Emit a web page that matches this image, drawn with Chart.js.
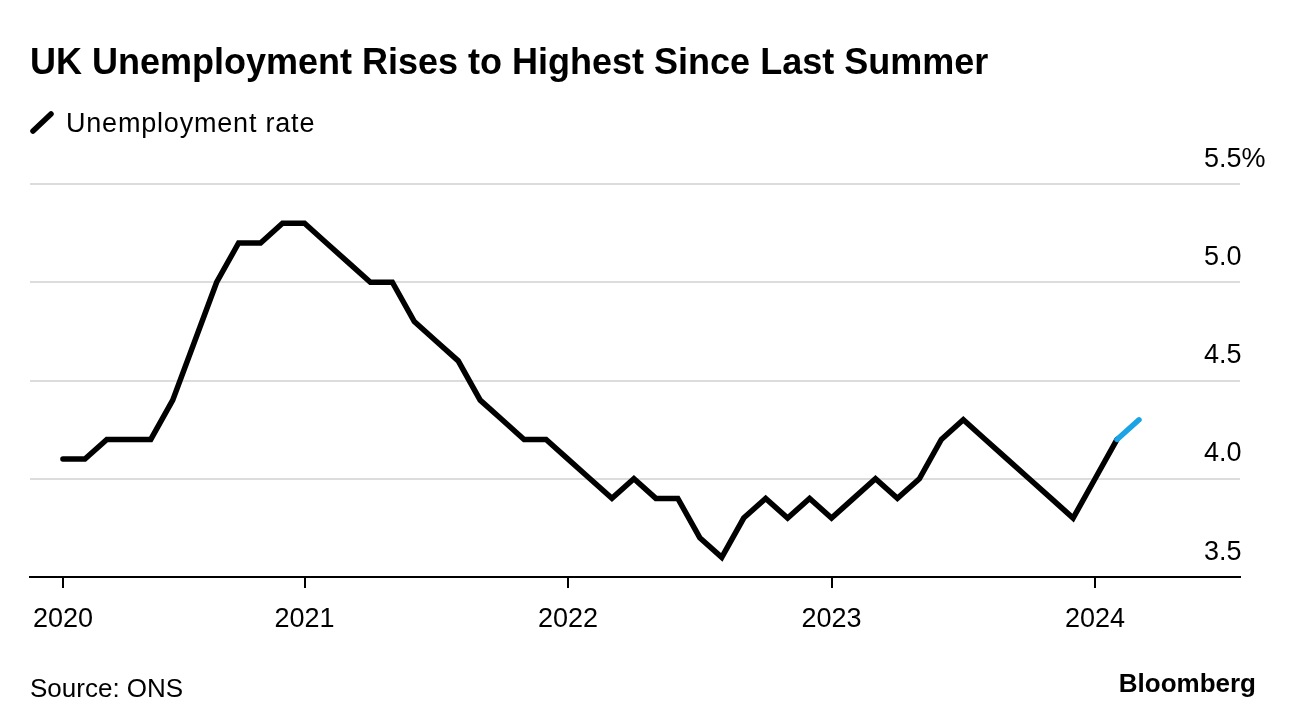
<!DOCTYPE html>
<html>
<head>
<meta charset="utf-8">
<script src="https://cdn.jsdelivr.net/npm/chart.js@4/dist/chart.umd.min.js"></script>
<style>
html,body{margin:0;padding:0;background:#fff;width:1296px;height:728px;overflow:hidden;font-family:"Liberation Sans",Arial,sans-serif;}
#wrap{position:relative;width:1296px;height:728px;}
#c{position:absolute;left:0;top:0;}
.t{position:absolute;white-space:nowrap;color:#000;line-height:1;}
#title{left:30px;top:44px;font-weight:bold;font-size:36px;}
#legend{left:66px;top:110px;font-size:27px;letter-spacing:0.8px;}
#icon{position:absolute;left:0;top:0;}
#source{left:30px;top:675px;font-size:26px;}
#brand{right:40px;top:670px;font-size:26px;font-weight:bold;}
</style>
</head>
<body>
<div id="wrap">
  <canvas id="c" width="1296" height="728"></canvas>
  <div class="t" id="title">UK Unemployment Rises to Highest Since Last Summer</div>
  <svg id="icon" width="80" height="150"><line x1="33" y1="131" x2="51" y2="114" stroke="#000" stroke-width="5.5" stroke-linecap="round"/></svg>
  <div class="t" id="legend">Unemployment rate</div>
  <div class="t" id="source">Source: ONS</div>
  <div class="t" id="brand">Bloomberg</div>
</div>
<script>
// Monthly observations, Feb 2020 .. Mar 2024
const months = [
  'Feb 2020','Mar 2020','Apr 2020','May 2020','Jun 2020','Jul 2020','Aug 2020','Sep 2020','Oct 2020','Nov 2020','Dec 2020',
  'Jan 2021','Feb 2021','Mar 2021','Apr 2021','May 2021','Jun 2021','Jul 2021','Aug 2021','Sep 2021','Oct 2021','Nov 2021','Dec 2021',
  'Jan 2022','Feb 2022','Mar 2022','Apr 2022','May 2022','Jun 2022','Jul 2022','Aug 2022','Sep 2022','Oct 2022','Nov 2022','Dec 2022',
  'Jan 2023','Feb 2023','Mar 2023','Apr 2023','May 2023','Jun 2023','Jul 2023','Aug 2023','Sep 2023','Oct 2023','Nov 2023','Dec 2023',
  'Jan 2024','Feb 2024','Mar 2024'
];
const unemploymentRate = [
  4.1,4.1,4.2,4.2,4.2,4.4,4.7,5.0,5.2,5.2,5.3,
  5.3,5.2,5.1,5.0,5.0,4.8,4.7,4.6,4.4,4.3,4.2,4.2,
  4.1,4.0,3.9,4.0,3.9,3.9,3.7,3.6,3.8,3.9,3.8,3.9,
  3.8,3.9,4.0,3.9,4.0,4.2,4.3,4.2,4.1,4.0,3.9,3.8,
  4.0,4.2,4.3
];
const yearTickLabels = ['2020','2021','2022','2023','2024'];
const yTickValues = [3.5,4.0,4.5,5.0,5.5];
const yTickLabels = ['3.5','4.0','4.5','5.0','5.5'];
const latestColor = '#1ba3e6';
const lineColor = '#000000';

// tick positions: first observation plus each January
const yearTickIdx = months.map((m,i)=> (i===0 || m.startsWith('Jan')) ? i : -1).filter(i=>i>=0);

const points = unemploymentRate.map((v,i)=>({x:i,y:v}));
const lastIdx = unemploymentRate.length-1;

const yLabelPlugin = {
  id:'yLabels',
  afterDraw(chart){
    const ctx = chart.ctx, ys = chart.scales.y, area = chart.chartArea;
    ctx.save();
    ctx.font = '27px "Liberation Sans", Arial, sans-serif';
    ctx.fillStyle = '#000';
    ctx.textBaseline = 'alphabetic';
    yTickValues.forEach((v,i)=>{
      const py = ys.getPixelForValue(v) - 17.5;
      const px = area.right + 1.5;
      ctx.textAlign = 'right';
      ctx.fillText(yTickLabels[i], px, py);
      if (i === yTickValues.length-1){
        ctx.textAlign = 'left';
        ctx.fillText('%', px, py);
      }
    });
    ctx.restore();
  }
};

new Chart(document.getElementById('c'), {
  type:'line',
  data:{
    datasets:[{
      label:'Unemployment rate',
      data:points,
      borderColor:lineColor,
      borderWidth:5.5,
      pointRadius:0,
      pointHoverRadius:0,
      tension:0,
      borderCapStyle:'round',
      borderJoinStyle:'miter',
      segment:{
        borderColor: c => c.p1DataIndex === lastIdx ? latestColor : undefined
      }
    }]
  },
  options:{
    responsive:false,
    animation:false,
    events:[],
    layout:{padding:{left:30,right:56,top:184,bottom:91}},
    plugins:{legend:{display:false},tooltip:{enabled:false},title:{display:false}},
    scales:{
      x:{
        type:'linear',
        min:-1.5,
        max:lastIdx+4.6,
        afterFit: s => { s.height = 60; },
        afterBuildTicks: s => { s.ticks = yearTickIdx.map(v=>({value:v})); },
        ticks:{
          autoSkip:false,
          maxRotation:0,
          padding:15,
          color:'#000',
          font:{family:'"Liberation Sans", Arial, sans-serif',size:27},
          callback:(v)=>{ const k = yearTickIdx.indexOf(v); return k>=0 ? yearTickLabels[k] : ''; }
        },
        grid:{display:true,drawOnChartArea:false,drawTicks:true,tickLength:11,color:'#000',lineWidth:2},
        border:{display:true,color:'#000',width:2}
      },
      y:{
        min:3.5,
        max:5.5,
        afterFit: s => { s.width = 0; },
        afterBuildTicks: s => { s.ticks = yTickValues.map(v=>({value:v})); },
        ticks:{display:false},
        grid:{drawTicks:false,lineWidth:2,color: c => (c.tick && c.tick.value === 3.5) ? 'rgba(0,0,0,0)' : '#dcdcdc'},
        border:{display:false}
      }
    }
  },
  plugins:[yLabelPlugin]
});
</script>
</body>
</html>
